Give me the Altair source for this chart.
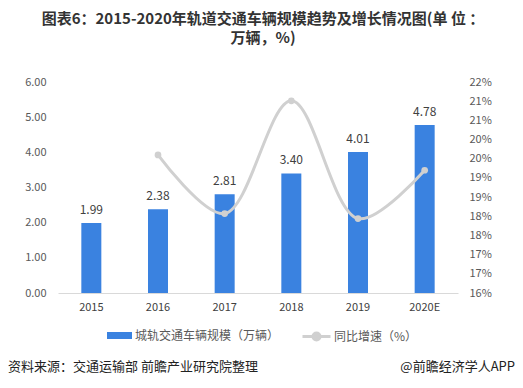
import altair as alt
import pandas as pd

years = ["2015", "2016", "2017", "2018", "2019", "2020E"]
vehicles = [1.99, 2.38, 2.81, 3.40, 4.01, 4.78]
growth = [None, 19.60, 18.07, 21.01, 17.94, 19.20]
left_ticks = [0, 1, 2, 3, 4, 5, 6]
right_ticks = [16, 16.5, 17, 17.5, 18, 18.5, 19, 19.5, 20, 20.5, 21, 21.5]

bar_name = "城轨交通车辆规模（万辆）"
line_name = "同比增速（%）"
title_lines = ["图表6：2015-2020年轨道交通车辆规模趋势及增长情况图(单 位 ：", "万辆，%)"]
source_text = "资料来源：交通运输部 前瞻产业研究院整理"
brand_text = "@前瞻经济学人APP"

FONT = "Noto Sans CJK SC"
BLUE = "#3A82E0"
GRAY = "#D0D0D0"

df = pd.DataFrame({
    "year": years,
    "vehicles": vehicles,
    "growth": growth,
    "bar_series": [bar_name] * len(years),
    "line_series": [line_name] * len(years),
})

x_enc = alt.X("year:N", sort=years, title=None,
              scale=alt.Scale(paddingInner=0.0, paddingOuter=0.0),
              axis=alt.Axis(labelAngle=0, ticks=False, domainColor="#D9D9D9",
                            labelColor="#404040", labelFontSize=11, labelFont=FONT,
                            labelPadding=8, grid=False))

y_left = alt.Y("vehicles:Q", title=None, scale=alt.Scale(domain=[0, 6], nice=False),
               axis=alt.Axis(values=left_ticks, format=".2f", domain=False, ticks=False,
                             grid=False, labelColor="#595959", labelFontSize=11,
                             labelFont=FONT, labelPadding=12, labelOverlap=False))

base = alt.Chart(df).encode(x=x_enc, y=y_left)

bars = base.mark_bar(size=20).encode(
    color=alt.Color("bar_series:N", title=None,
                    scale=alt.Scale(range=[BLUE]),
                    legend=alt.Legend(orient="none", legendX=49, legendY=241,
                                      symbolType="M-1,-0.28H1V0.28H-1Z", symbolSize=625,
                                      symbolStrokeWidth=0, labelOffset=3,
                                      labelFont=FONT, labelFontSize=12,
                                      labelColor="#595959")),
)

labels = base.mark_text(baseline="middle", dy=-13, font=FONT, fontSize=12,
                        color="#404040").encode(
    text=alt.Text("vehicles:Q", format=".2f"),
)

line = alt.Chart(df).transform_filter("isValid(datum.growth)").mark_line(
    interpolate="catmull-rom", strokeWidth=3,
    point=alt.OverlayMarkDef(filled=True, size=45, color="#C8C8C8"),
).encode(
    x=x_enc,
    y=alt.Y("growth:Q", title=None, scale=alt.Scale(domain=[16, 21.5], zero=False, nice=False),
            axis=alt.Axis(orient="right", values=right_ticks,
                          labelExpr="round(datum.value) + '%'", domain=False,
                          ticks=False, grid=False, labelColor="#595959",
                          labelFontSize=11, labelFont=FONT, labelPadding=11,
                          labelOverlap=False)),
    color=alt.Color("line_series:N", title=None,
                    scale=alt.Scale(range=[GRAY]),
                    legend=alt.Legend(orient="none", legendX=243, legendY=239,
                                      symbolType="M-1,0H1M0.25,0A0.25,0.25,0,1,1,-0.25,0A0.25,0.25,0,1,1,0.25,0",
                                      symbolSize=784, symbolStrokeWidth=3,
                                      symbolFillColor="#C8C8C8",
                                      labelOffset=2, labelFont=FONT, labelFontSize=12,
                                      labelColor="#595959")),
)

foot = alt.Data(values=[{"k": 1}])
footer_left = alt.Chart(foot).mark_text(align="left", baseline="middle", font=FONT,
                                        fontSize=13, color="#222222").encode(
    x=alt.value(-50), y=alt.value(285), text=alt.value(source_text))
footer_right = alt.Chart(foot).mark_text(align="right", baseline="middle", font=FONT,
                                         fontSize=13, color="#222222").encode(
    x=alt.value(457), y=alt.value(285), text=alt.value(brand_text))

chart = alt.layer(
    alt.layer(bars, labels), line, footer_left, footer_right
).resolve_scale(y="independent", color="independent").properties(
    width=400, height=211,
    autosize=alt.AutoSizeParams(type="none"),
    padding={"left": 50, "top": 74, "right": 57, "bottom": 86},
    title=alt.TitleParams(text=title_lines, anchor="middle", frame="group",
                          font=FONT, fontSize=15, fontWeight="bold", color="#333333",
                          lineHeight=19, offset=30, dx=5),
).configure_view(stroke=None)

chart.save("out.html", embed_options={"renderer": "svg", "actions": False})
